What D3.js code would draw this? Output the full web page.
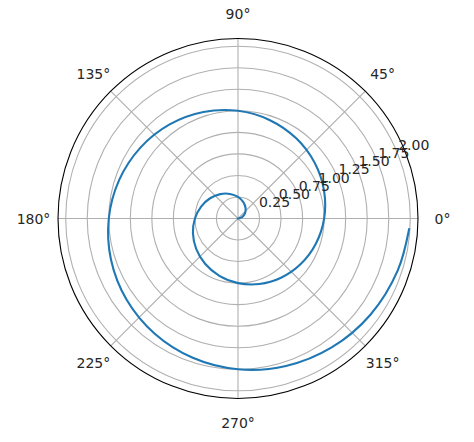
<!DOCTYPE html>
<html>
<head>
<meta charset="utf-8">
<script src="https://cdn.jsdelivr.net/npm/d3@7"></script>
<style>
  html, body { margin: 0; padding: 0; background: #fff; }
  svg { display: block; }
  text { font-family: "DejaVu Sans", sans-serif; fill: #262626; }
</style>
</head>
<body>
<svg id="chart" width="474" height="442"></svg>
<script>
// Spiral samples: radius and angle (degrees)
const radii = [0.00,0.05,0.10,0.15,0.20,0.25,0.30,0.35,0.40,0.45,0.50,0.55,0.60,0.65,0.70,0.75,0.80,0.85,0.90,0.95,
               1.00,1.05,1.10,1.15,1.20,1.25,1.30,1.35,1.40,1.45,1.50,1.55,1.60,1.65,1.70,1.75,1.80,1.85,1.90,1.95,1.99];
const anglesDeg = [0,18,36,54,72,90,108,126,144,162,180,198,216,234,252,270,288,306,324,342,
                   360,378,396,414,432,450,468,486,504,522,540,558,576,594,612,630,648,666,684,702,716.4];
const rTicks = [0.25,0.50,0.75,1.00,1.25,1.50,1.75,2.00];
const rTickLabels = ["0.25","0.50","0.75","1.00","1.25","1.50","1.75","2.00"];
const thetaTicks = [0,45,90,135,180,225,270,315];
const thetaTickLabels = ["0°","45°","90°","135°","180°","225°","270°","315°"];
const rMax = 2.0895;

const cx = 238, cy = 218.5, R = 180;
const svg = d3.select("#chart");
const g = svg.append("g").attr("transform", `translate(${cx},${cy})`);

const r = d3.scaleLinear().domain([0, rMax]).range([0, R]);
const toRad = d => d * Math.PI / 180;
const px = (rv, deg) => r(rv) * Math.cos(toRad(deg));
const py = (rv, deg) => -r(rv) * Math.sin(toRad(deg));

// grid circles
g.selectAll("circle.grid").data(rTicks).join("circle")
  .attr("class", "grid").attr("r", d => r(d))
  .attr("fill", "none").attr("stroke", "#b0b0b0").attr("stroke-width", 1.1);

// angular grid lines
g.selectAll("line.tgrid").data(thetaTicks).join("line")
  .attr("x1", 0).attr("y1", 0)
  .attr("x2", d => px(rMax, d)).attr("y2", d => py(rMax, d))
  .attr("stroke", "#b0b0b0").attr("stroke-width", 1.1);

// spiral
const pts = radii.map((v, i) => [px(v, anglesDeg[i]), py(v, anglesDeg[i])]);
g.append("path")
  .attr("d", d3.line().curve(d3.curveCatmullRom.alpha(0.5))(pts))
  .attr("fill", "none").attr("stroke", "#1f77b4").attr("stroke-width", 2.1)
  .attr("stroke-linecap", "square");

// outer spine
g.append("circle").attr("r", r(rMax)).attr("fill", "none")
  .attr("stroke", "#000").attr("stroke-width", 1.1);

// radial labels at 22.5°
g.selectAll("text.rlab").data(rTicks).join("text")
  .attr("x", d => px(d, 22.5) + 1)
  .attr("y", d => py(d, 22.5) - 3)
  .attr("font-size", 14)
  .text((d, i) => rTickLabels[i]);

// theta labels
g.selectAll("text.tlab").data(thetaTicks).join("text")
  .attr("x", d => (R + 24.5) * Math.cos(toRad(d)))
  .attr("y", d => -(R + 24.5) * Math.sin(toRad(d)))
  .attr("text-anchor", "middle")
  .attr("dominant-baseline", "central")
  .attr("font-size", 14)
  .text((d, i) => thetaTickLabels[i]);
</script>
</body>
</html>
